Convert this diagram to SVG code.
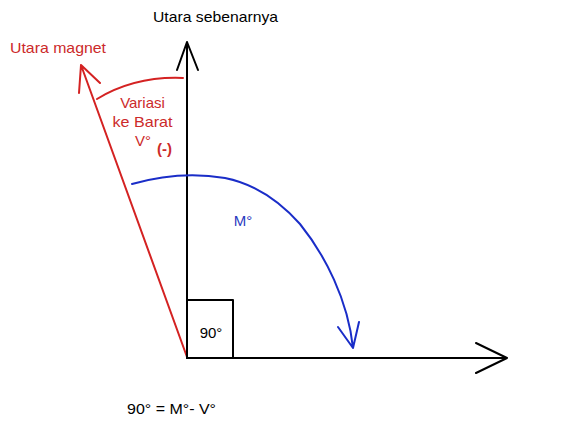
<svg xmlns="http://www.w3.org/2000/svg" width="581" height="427" viewBox="0 0 581 427">
<style>
.blk{stroke:#000;stroke-width:2;fill:none;stroke-linecap:round;stroke-linejoin:round}
.red{stroke:#d42222;stroke-width:2;fill:none;stroke-linecap:round;stroke-linejoin:round}
.blu{stroke:#1a2dc8;stroke-width:2;fill:none;stroke-linecap:round;stroke-linejoin:round}
text{font-family:"Liberation Sans",Arial,sans-serif;font-size:15px}
.tb{fill:#000}
.tr{fill:#cc2a2a}
.tbl{fill:#2a3ac0}
</style>
<rect width="581" height="427" fill="#fff"/>
<g id="connectors">
<path class="blk" d="M187,358 V42 M177,70 L187,42 L198,70"/>
<path class="blk" d="M187,358 H507 M476,343 L507,358 L476,373"/>
<path class="red" d="M187,357 L81,65 M79,93 L81,65 L100,83"/>
<path class="red" d="M97,99 Q135,76 183,78"/>
<path class="blu" d="M132,184 C160,176 190,172 225,178 C250,183 275,196 300,224 C325,255 348,300 353,348 M338,327 L353,348 L359,322"/>
</g>
<g id="angle-box">
<rect x="187" y="300" width="46" height="58" class="blk" stroke-linecap="butt"/>
<text class="tb" x="211" y="338" text-anchor="middle">90°</text>
</g>
<g id="true-north">
<text class="tb" x="153" y="22" textLength="125" lengthAdjust="spacingAndGlyphs">Utara sebenarnya</text>
</g>
<g id="magnetic-north">
<text class="tr" x="10" y="53" textLength="96" lengthAdjust="spacingAndGlyphs">Utara magnet</text>
</g>
<g id="variation">
<text class="tr" x="142.5" y="108" text-anchor="middle" font-size="15.5">Variasi</text>
<text class="tr" x="142.5" y="127" text-anchor="middle" textLength="60" lengthAdjust="spacingAndGlyphs">ke Barat</text>
<text class="tr" x="143" y="146" text-anchor="middle">V°</text>
<text class="tr" x="164.5" y="154" text-anchor="middle" font-size="14" font-weight="bold">(-)</text>
</g>
<g id="m-angle">
<text class="tbl" x="243" y="226" text-anchor="middle">M°</text>
</g>
<g id="formula">
<text class="tb" x="127" y="414" textLength="89" lengthAdjust="spacingAndGlyphs">90° = M°- V°</text>
</g>
</svg>
